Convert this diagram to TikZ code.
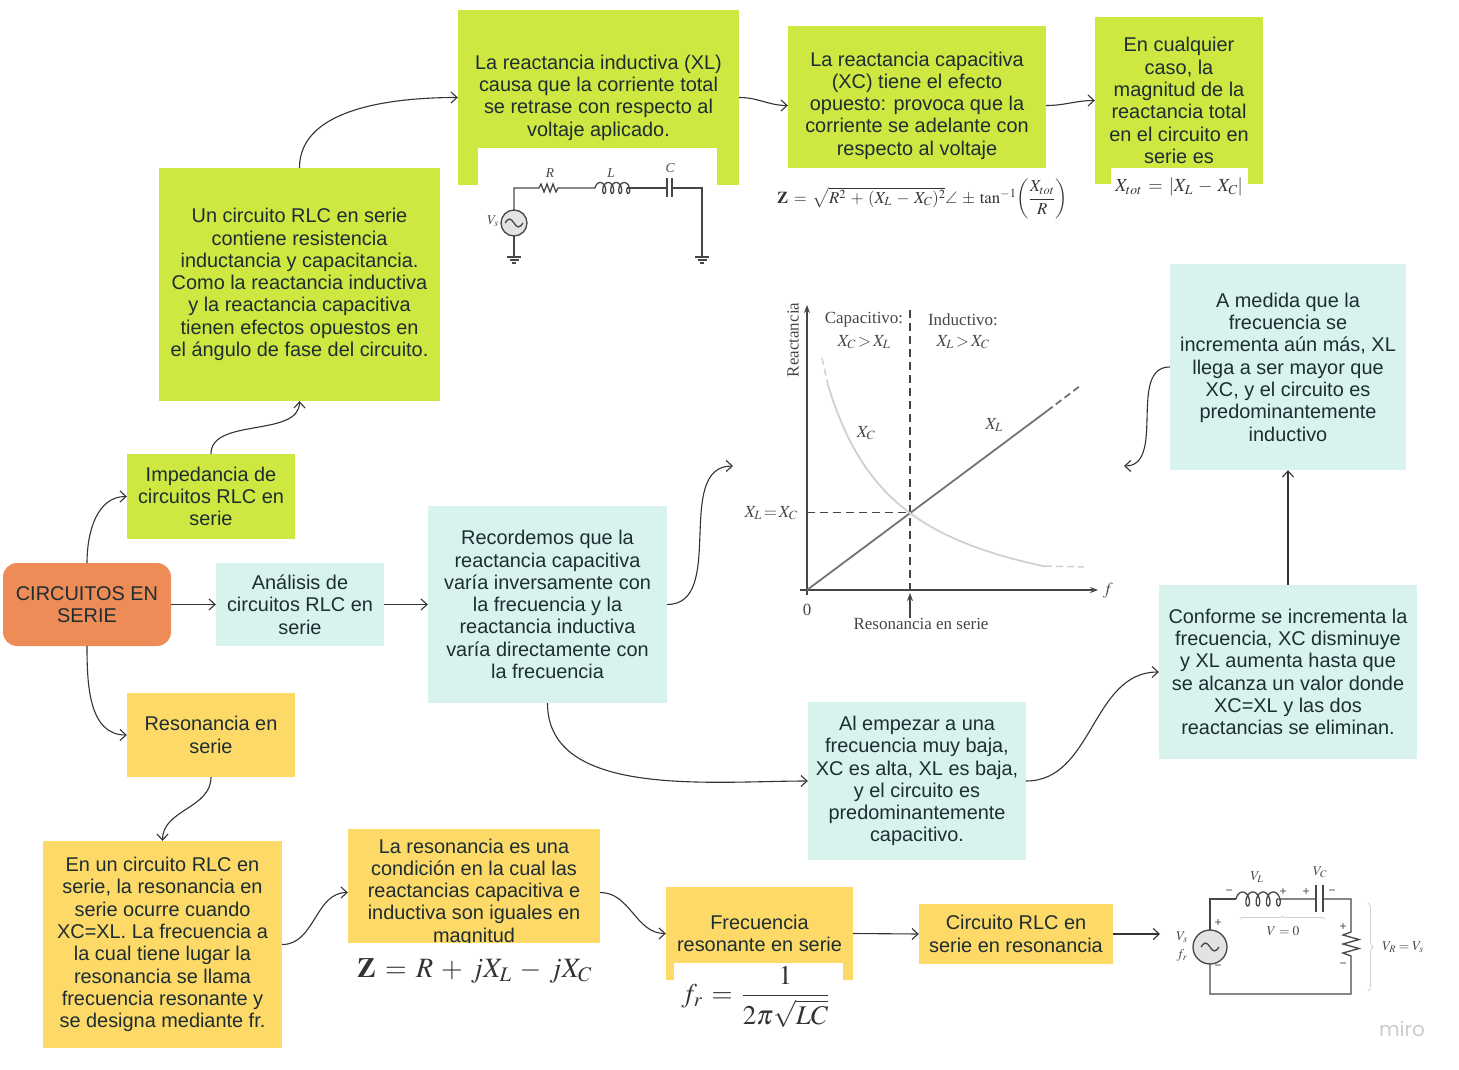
\documentclass[tikz,border=0pt]{standalone}
\usepackage{amsmath,amssymb}
\usepackage{mathptmx}
\usepackage[no-math]{fontspec}
\setmainfont{Liberation Sans}
\newfontfamily\figserif{Liberation Serif}
\newfontfamily\logofont{Poppins}
\usepackage{tikz}
\usetikzlibrary{arrows.meta,decorations.pathreplacing}
\definecolor{mapOrange}{RGB}{238,140,88}
\definecolor{mapGreen}{RGB}{206,231,65}
\definecolor{mapTeal}{RGB}{216,243,238}
\definecolor{mapYellow}{RGB}{253,217,103}
\definecolor{mapText}{RGB}{30,45,50}
\definecolor{figInk}{RGB}{70,70,70}
\definecolor{figPale}{RGB}{208,208,208}
\definecolor{logoGrey}{RGB}{200,203,208}
% coil between wire ends: x, y, width, height, loop radius
\newcommand{\coil}[5]{\draw[wire] plot[domain=-90:1350, samples=120]
  ({#1+#5+(\x+90)/1440*#3+#5*sin(\x)},{#2-#4*cos(\x)});}
\newcommand{\wave}[2]{\draw[wire] (#1-9,#2) sin (#1-4.5,#2-4) cos (#1,#2) sin (#1+4.5,#2+4) cos (#1+9,#2);}
\newcommand{\earth}[2]{\draw[wire] (#1-7,#2) -- (#1+7,#2) (#1-4.5,#2+3) -- (#1+4.5,#2+3) (#1-2,#2+6) -- (#1+2,#2+6);}

\begin{document}
\begin{tikzpicture}[
    x=1pt, y=-1pt,
    box/.style={minimum width=#1, inner sep=0pt, align=center, text=mapText,
      font=\fontsize{19.9}{22.3}\selectfont},
    patch/.style={fill=white},
    arr/.style={-{Straight Barb[length=6pt,width=11pt]}, line width=1.1pt, black!80},
    wire/.style={line width=1.3pt, figInk},
    fig/.style={text=figInk, inner sep=0pt, font=\figserif\fontsize{17}{20}\selectfont},
    figsm/.style={text=figInk, inner sep=0pt, font=\figserif\fontsize{13.5}{16}\selectfont},
    pm/.style={text=figInk, inner sep=0pt, font=\fontsize{12}{14}\selectfont},
    eqn/.style={text=black!80, inner sep=0pt,
      execute at begin node={\medmuskip=5mu\thickmuskip=6mu}}
  ]
  \useasboundingbox (0,0) rectangle (1459,1070);

  % Left column
  \node[box=168pt, fill=mapOrange, rounded corners=14pt, minimum height=83pt] (circuitos) at (87,604.5)
    {CIRCUITOS EN\\SERIE};
  \node[box=168pt, fill=mapGreen, minimum height=85pt] (impedancia) at (211,496.5)
    {Impedancia de\\circuitos RLC en\\serie};
  \node[box=168pt, fill=mapTeal, minimum height=83pt] (analisis) at (300,604.5)
    {Análisis de\\circuitos RLC en\\serie};
  \node[box=168pt, fill=mapYellow, minimum height=84pt] (resonancia) at (211,735)
    {Resonancia en\\serie};
  \node[box=281pt, fill=mapGreen, minimum height=233pt] (rlc) at (299.5,284.5)
    {Un circuito RLC en serie\\contiene resistencia\\inductancia y capacitancia.\\Como la reactancia inductiva\\y la reactancia capacitiva\\tienen efectos opuestos en\\el ángulo de fase del circuito.};

  % Top row
  \node[box=281pt, fill=mapGreen, minimum height=175pt] (inductiva) at (598.5,97.5)
    {La reactancia inductiva (XL)\\causa que la corriente total\\se retrase con respecto al\\voltaje aplicado.};
  \node[box=258pt, fill=mapGreen, minimum height=159pt] (capacitiva) at (917,105.5)
    {La reactancia capacitiva\\(XC) tiene el efecto\\opuesto: provoca que la\\corriente se adelante con\\respecto al voltaje};
  \node[box=168pt, fill=mapGreen, minimum height=167pt] (cualquier) at (1179,100.5)
    {En cualquier\\caso, la\\magnitud de la\\reactancia total\\en el circuito en\\serie es};

  % Middle and right
  \node[box=239pt, fill=mapTeal, minimum height=197pt] (recordemos) at (547.5,604.5)
    {Recordemos que la\\reactancia capacitiva\\varía inversamente con\\la frecuencia y la\\reactancia inductiva\\varía directamente con\\la frecuencia};
  \node[box=218pt, fill=mapTeal, minimum height=158pt] (empezar) at (917,781)
    {Al empezar a una\\frecuencia muy baja,\\XC es alta, XL es baja,\\y el circuito es\\predominantemente\\capacitivo.};
  \node[box=258pt, fill=mapTeal, minimum height=174pt] (conforme) at (1288,672)
    {Conforme se incrementa la\\frecuencia, XC disminuye\\y XL aumenta hasta que\\se alcanza un valor donde\\XC=XL y las dos\\reactancias se eliminan.};
  \node[box=236pt, fill=mapTeal, minimum height=206pt] (medida) at (1288,367)
    {A medida que la\\frecuencia se\\incrementa aún más, XL\\llega a ser mayor que\\XC, y el circuito es\\predominantemente\\inductivo};

  % Bottom row
  \node[box=239pt, fill=mapYellow, minimum height=207pt] (ocurre) at (162.5,944.5)
    {En un circuito RLC en\\serie, la resonancia en\\serie ocurre cuando\\XC=XL. La frecuencia a\\la cual tiene lugar la\\resonancia se llama\\frecuencia resonante y\\se designa mediante fr.};
  \node[box=252pt, fill=mapYellow, minimum height=127pt] (condicion) at (474,892.5)
    {La resonancia es una\\condición en la cual las\\reactancias capacitiva e\\inductiva son iguales en\\magnitud};
  \node[box=187pt, fill=mapYellow, minimum height=93pt] (frecuencia) at (759.5,933.5)
    {Frecuencia\\resonante en serie};
  \node[box=194pt, fill=mapYellow, minimum height=60pt] (serie) at (1016,934)
    {Circuito RLC en\\serie en resonancia};

  % White backs of the figures
  \fill[patch] (478,148) rectangle (717,186);
  \fill[patch] (775,168) rectangle (1060,186);
  \fill[patch] (1111,168) rectangle (1248,185);
  \fill[patch] (340,943) rectangle (610,959);
  \fill[patch] (674,963) rectangle (843,981);

  % Free ends
  \coordinate (plotin) at (733,466);
  \coordinate (plotout) at (1124,466);
  \coordinate (figin) at (1160,934);

  % Arrows
  \draw[arr] (circuitos.north) to[out=90,in=180] (impedancia.west);
  \draw[arr] (circuitos.east) -- (analisis.west);
  \draw[arr] (circuitos.south) to[out=-90,in=180] (resonancia.west);
  \draw[arr] (impedancia.north) to[out=90,in=-90,looseness=0.9] (rlc.south);
  \draw[arr] (rlc.north) to[out=90,in=180,looseness=0.9] (inductiva.west);
  \draw[arr] (inductiva.east) to[out=0,in=180] (capacitiva.west);
  \draw[arr] (capacitiva.east) to[out=0,in=180] (cualquier.west);
  \draw[arr] (analisis.east) -- (recordemos.west);
  \draw[arr] (recordemos.east) to[out=0,in=180] (plotin);
  \draw[arr] (recordemos.south) to[out=-90,in=180,looseness=0.9] (empezar.west);
  \draw[arr] (empezar.east) to[out=0,in=180] (conforme.west);
  \draw[arr] (conforme.north) -- (medida.south);
  \draw[arr] (medida.west) to[out=180,in=0] (plotout);
  \draw[arr] (resonancia.south) to[out=-90,in=90] (ocurre.north);
  \draw[arr] (ocurre.east) to[out=0,in=180] (condicion.west);
  \draw[arr] (condicion.east) to[out=0,in=180] (frecuencia.west);
  \draw[arr] (frecuencia.east) -- (serie.west);
  \draw[arr] (serie.east) -- (figin);

  % Series circuit under the inductive text
  \draw[wire] (514,210) -- (514,188) -- (539,188) -- ++(2,-4) -- ++(3,8) -- ++(3,-8) -- ++(3,8) -- ++(3,-8) -- ++(3,8) -- ++(2,-4) -- (595,188);
  \coil{595}{188}{32}{5.5}{3.2}
  \draw[wire] (627,188) -- (667,188) (667,178) -- (667,197) (672,178) -- (672,197) (672,188) -- (702,188) -- (702,257);
  \draw[wire, fill=figPale!60] (514,223) circle (13pt);
  \wave{514}{223}
  \draw[wire] (514,236) -- (514,257);
  \earth{514}{257}
  \earth{702}{257}
  \node[figsm] (lblR) at (550,173) {\itshape R};
  \node[figsm] (lblL) at (611,173) {\itshape L};
  \node[figsm] (lblC) at (670,168) {\itshape C};
  \node[figsm] (lblVs) at (493,221) {$V_s$};

  % Formulas
  \node[eqn, font=\fontsize{16.7}{20}\selectfont] (eqZ) at (922.5,199)
    {$\mathbf{Z}=\sqrt{R^2+(X_L-X_C)^2}\angle\pm\tan^{-1}\!\left(\dfrac{X_{tot}}{R}\right)$};
  \node[eqn, font=\fontsize{18.5}{22}\selectfont] (eqX) at (1179,187) {$X_{tot}=|X_L-X_C|$};
  \node[eqn, font=\fontsize{28}{32}\selectfont] (eqJ) at (474.5,971) {$\mathbf{Z}=R+jX_L-jX_C$};
  \node[eqn, font=\fontsize{27}{32}\selectfont] (eqF) at (755.5,997) {$f_r=\dfrac{1}{2\pi\sqrt{LC}}$};

  % Reactance plot
  \draw[line width=1.4pt, figInk, -{Stealth[length=8pt,width=6pt]}] (807,595) -- (807,305);
  \draw[line width=1.2pt, figInk, -{Stealth[length=8pt,width=6pt]}] (800,590) -- (1098,590);
  \draw[line width=1.2pt, figInk, dashed, dash pattern=on 8pt off 5pt] (910,310) -- (910,590);
  \draw[line width=1.2pt, figInk, dashed, dash pattern=on 8pt off 5pt] (807,512.5) -- (910,512.5);
  \draw[line width=1.8pt, black!55] (807,590) -- (1047,411);
  \draw[line width=1.8pt, black!55, dashed, dash pattern=on 7pt off 4pt] (1047,411) -- (1080,386);
  \draw[line width=1.8pt, figPale] plot[domain=828:1045, samples=60] (\x,{628-1788.5/(\x-754.4)*10});
  \draw[line width=1.5pt, figPale, dashed, dash pattern=on 7pt off 4pt] (822,358) -- (828,385);
  \draw[line width=1.5pt, figPale, dashed, dash pattern=on 7pt off 4pt] (1045,566) -- (1084,567);
  \node[fig, rotate=90] (lblReact) at (793,340) {Reactancia};
  \node[fig] (lblCap) at (864,320) {Capacitivo:};
  \node[fig] (lblCapGt) at (864,342) {$X_C\!>\!X_L$};
  \node[fig] (lblInd) at (963,320) {Inductivo:};
  \node[fig] (lblIndGt) at (963,342) {$X_L\!>\!X_C$};
  \node[fig] (lblXc) at (866,433) {$X_C$};
  \node[fig] (lblXl) at (994,425) {$X_L$};
  \node[fig] (lblEq) at (771,513) {$X_L\!=\!X_C$};
  \node[fig] (lblZero) at (807,610) {0};
  \node[fig] (lblF) at (1108,591) {$f$};
  \node[fig] (lblRes) at (921,624) {Resonancia en serie};
  \coordinate (resTip) at (910,593);
  \draw[line width=1.2pt, figInk, -{Stealth[length=8pt,width=6pt]}] (lblRes.north -| resTip) -- (resTip);

  % Circuit at resonance
  \draw[wire] (1210,930) -- (1210,899) -- (1236,899);
  \coil{1236}{899}{41}{7}{4}
  \draw[wire] (1277,899) -- (1316,899) (1323,899) -- (1351,899) -- (1351,932) -- ++(-8,3) -- ++(16,4.5) -- ++(-16,4.5) -- ++(16,4.5) -- ++(-16,4.5) -- ++(8,3) -- (1351,994) -- (1210,994) -- (1210,964);
  \draw[line width=1.5pt, figInk] (1316,885) -- (1316,912) (1323,885) -- (1323,912);
  \draw[wire, fill=figPale!60] (1210,947) circle (17pt);
  \wave{1210}{947}
  \draw[figPale, line width=0.8pt, decorate, decoration={brace, mirror, amplitude=3pt}] (1325,919) -- (1240,919);
  \draw[figPale, line width=0.8pt, decorate, decoration={brace, amplitude=5pt}] (1368,903) -- (1368,991);
  \node[figsm] (lblVl) at (1257,877) {$V_L$};
  \node[figsm] (lblVc) at (1320,872) {$V_C$};
  \node[figsm] (lblZeroV) at (1283,931) {$V=0$};
  \node[figsm] (lblVr) at (1403,947) {$V_R=V_s$};
  \node[figsm] (lblVsb) at (1182,937) {$V_s$};
  \node[figsm] (lblFr) at (1182,955) {$f_r$};
  \node[pm] (minusA) at (1229,892) {−};
  \node[pm] (plusA) at (1283,892) {+};
  \node[pm] (plusB) at (1306,892) {+};
  \node[pm] (minusB) at (1332,892) {−};
  \node[pm] (plusC) at (1218,923) {+};
  \node[pm] (minusC) at (1218,967) {−};
  \node[pm] (plusD) at (1343,927) {+};
  \node[pm] (minusD) at (1343,965) {−};

  \node[inner sep=0pt, text=logoGrey, font=\logofont\fontsize{20}{24}\selectfont] (logo) at (1402,1029) {miro};
\end{tikzpicture}
\end{document}
